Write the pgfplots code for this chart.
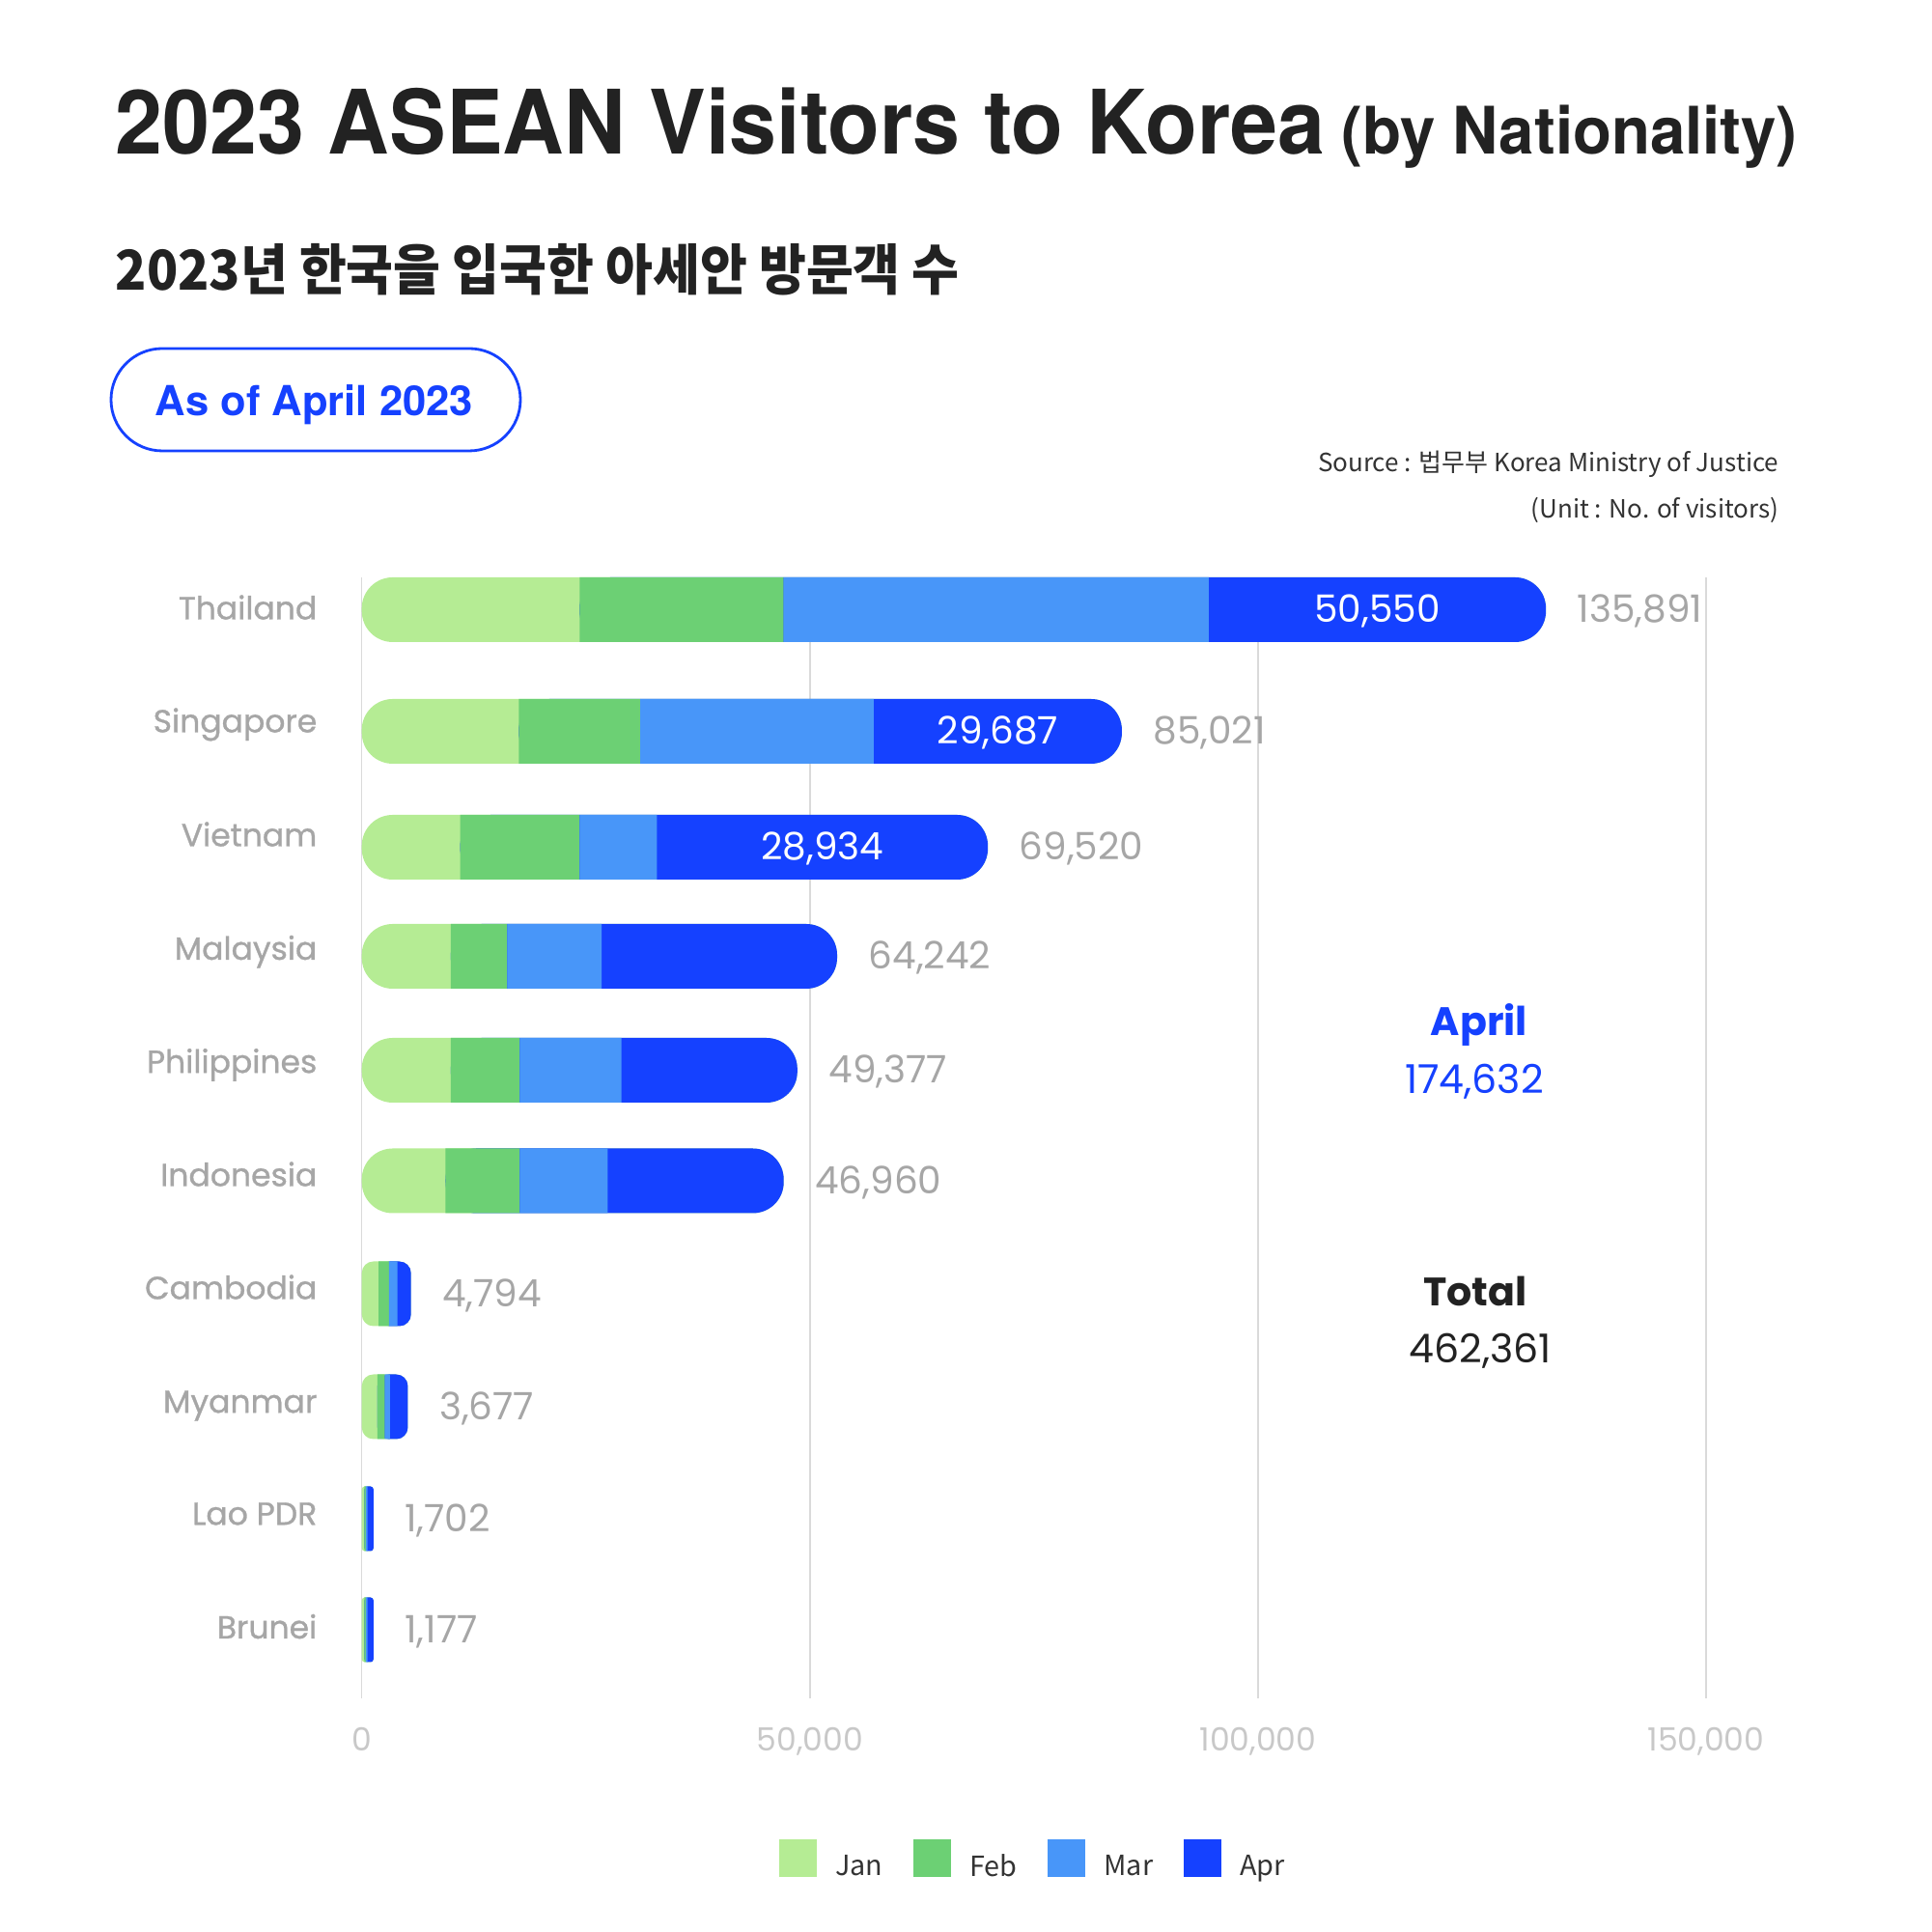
\documentclass[border=0pt]{standalone}
\usepackage{fontspec}
\usepackage{graphicx}
\usepackage{pgfplots}
\usepackage{pgfplotstable}
\pgfplotsset{compat=1.18}
\setmainfont{TeX Gyre Heros}
\newfontfamily\heros{TeX Gyre Heros}
\newfontfamily\kr{Noto Sans CJK KR}
\newfontfamily\pop{Poppins}
\newfontfamily\popsb{Poppins}[FakeBold=0.9]

\definecolor{janc}{HTML}{B5EC94}
\definecolor{febc}{HTML}{6CD074}
\definecolor{marc}{HTML}{4896F9}
\definecolor{aprc}{HTML}{1541FF}
\definecolor{labc}{HTML}{A6A6A6}
\definecolor{tickc}{HTML}{C8C8C8}
\definecolor{gridc}{HTML}{DADADA}
\definecolor{titc}{HTML}{222222}
\definecolor{srcc}{HTML}{333333}
\definecolor{bluet}{HTML}{1541FF}

% y = bar centre, J/F/M = Jan/Feb/Mar widths as drawn, T = end of bar, N = J - T
\pgfplotstableread{
y J F M T N lab
1369.5 24300 22780 47430 132130 -107830 135,891
1243.5 17520 13550 26060 84810 -67290 85,021
1123.5 10980 13320 8640 69860 -58880 69,520
1010.5 9930 6310 10510 53040 -43110 64,242
892.5 9930 7710 11330 48600 -38670 49,377
778 9350 8290 9810 47080 -37730 46,960
}\bigdata
\pgfplotstableread{
y J F M T N lab
661 1870 1170 930 5490 -3620 4,794
544 1750 820 580 5140 -3390 3,677
}\smalldata
\pgfplotstableread{
y J F M T N lab
428 300 150 200 1300 -1000 1,702
313 300 150 200 1300 -1000 1,177
}\tinydata

\pgfplotsset{
  geo/.style={
    scale only axis, width=13.923cm, height=11.61cm,
    xmin=0, xmax=150000, ymin=242, ymax=1403,
    enlargelimits=false,
    at={(3.747cm,2.42cm)}, anchor=south west,
    axis line style={draw=none}, tick style={draw=none},
    major tick length=0pt, clip=false,
  },
  bars/.style={xbar stacked, stack negative=on previous, reverse stacked plots=false, bar width=67},
  vallab/.style={
    point meta=explicit symbolic,
    nodes near coords={\pgfplotspointmeta},
    nodes near coords style={anchor=base west, inner sep=0pt, xshift=0.32cm, yshift=-0.135cm,
      text=labc, font=\pop\fontsize{11.1pt}{12pt}\selectfont},
  },
}

\begin{document}
\begin{tikzpicture}[x=1cm,y=1cm]
\path (0,0) rectangle (20.01,20.01);

\begin{axis}[geo, bars,
  xtick={0,50000,100000,150000},
  xticklabels={0,{50,000},{100,000},{150,000}},
  scaled x ticks=false,
  xticklabel style={font=\pop\fontsize{9.4pt}{10pt}\selectfont, text=tickc, anchor=base, yshift=-0.545cm, inner sep=0pt},
  xmajorgrids, grid style={line width=0.45pt, color=gridc},
  ytick={1359.5,1242.5,1124.5,1007,889.8,772.5,655.5,537.8,421.7,304},
  yticklabels={Thailand,Singapore,Vietnam,Malaysia,Philippines,Indonesia,Cambodia,Myanmar,Lao PDR,Brunei},
  yticklabel style={font=\popsb\fontsize{9.4pt}{10pt}\selectfont, text=labc, anchor=base east, inner sep=0pt, xshift=-0.457cm},
  legend columns=4,
  legend style={draw=none, fill=none, inner sep=0pt, at={(0.3098,-0.1447)}, anchor=west,
    font=\kr\fontsize{8.2pt}{9pt}\selectfont, text=srcc, nodes={inner sep=0pt},
    /tikz/every odd column/.append style={column sep=0.19cm},
    /tikz/every even column/.append style={column sep=0.315cm}},
]
\addplot[fill=janc, draw=none, rounded corners=0.32cm, forget plot] table[x=T, y=y] {\bigdata};
\addplot[fill=aprc, draw=none, rounded corners=0.32cm, forget plot] table[x=N, y=y] {\bigdata};
\addplot[fill=febc, draw=none, forget plot] table[x=F, y=y] {\bigdata};
\addplot[fill=marc, draw=none, forget plot] table[x=M, y=y] {\bigdata};

\addlegendimage{legend image code/.code={\fill[janc] (0cm,-0.085cm) rectangle (0.38cm,0.295cm);}}
\addlegendentry{Jan}
\addlegendimage{legend image code/.code={\fill[febc] (0cm,-0.085cm) rectangle (0.38cm,0.295cm);}}
\addlegendentry{Feb}
\addlegendimage{legend image code/.code={\fill[marc] (0cm,-0.085cm) rectangle (0.38cm,0.295cm);}}
\addlegendentry{Mar}
\addlegendimage{legend image code/.code={\fill[aprc] (0cm,-0.085cm) rectangle (0.38cm,0.295cm);}}
\addlegendentry{Apr}

\node[anchor=base, inner sep=0pt, text=white, font=\pop\fontsize{11.1pt}{12pt}\selectfont] at (axis cs:113320,1356) {50,550};
\node[anchor=base, inner sep=0pt, text=white, font=\pop\fontsize{11.1pt}{12pt}\selectfont] at (axis cs:70970,1230) {29,687};
\node[anchor=base, inner sep=0pt, text=white, font=\pop\fontsize{11.1pt}{12pt}\selectfont] at (axis cs:51400,1110) {28,934};
\end{axis}

\begin{axis}[geo, bars, hide axis]
\addplot[fill=janc, draw=none, rounded corners=0.12cm] table[x=T, y=y] {\smalldata};
\addplot[fill=aprc, draw=none, rounded corners=0.12cm] table[x=N, y=y] {\smalldata};
\addplot[fill=febc, draw=none] table[x=F, y=y] {\smalldata};
\addplot[fill=marc, draw=none] table[x=M, y=y] {\smalldata};
\end{axis}

\begin{axis}[geo, bars, hide axis]
\addplot[fill=janc, draw=none, rounded corners=0.03cm] table[x=T, y=y] {\tinydata};
\addplot[fill=aprc, draw=none, rounded corners=0.03cm] table[x=N, y=y] {\tinydata};
\addplot[fill=febc, draw=none] table[x=F, y=y] {\tinydata};
\addplot[fill=marc, draw=none] table[x=M, y=y] {\tinydata};
\end{axis}

% totals at the bar ends
\begin{axis}[geo, hide axis]
\addplot[draw=none, vallab] table[x=T, y=y, meta=lab] {\bigdata};
\addplot[draw=none, vallab] table[x=T, y=y, meta=lab] {\smalldata};
\addplot[draw=none, vallab] table[x=T, y=y, meta=lab] {\tinydata};
\end{axis}

% titles
\node[anchor=base west, inner sep=0pt, text=titc] at (1.19,18.41)
  {\resizebox{12.53cm}{\height}{\fontsize{26.2pt}{28pt}\selectfont\heros\bfseries 2023 ASEAN Visitors to Korea}};
\node[anchor=base west, inner sep=0pt, text=titc] at (13.89,18.41)
  {\resizebox{4.72cm}{\height}{\fontsize{19.3pt}{21pt}\selectfont\heros\bfseries (by Nationality)}};
\node[anchor=base west, inner sep=0pt, text=titc] at (1.19,17.00)
  {\resizebox{8.74cm}{\height}{\fontsize{16.2pt}{18pt}\selectfont\kr\bfseries 2023년 한국을 입국한 아세안 방문객 수}};

% pill
\draw[line width=0.8pt, draw=bluet, rounded corners=0.53cm] (1.15,15.34) rectangle (5.39,16.40);
\node[anchor=base, inner sep=0pt, text=bluet] at (3.255,15.705)
  {\resizebox{3.29cm}{\height}{\fontsize{12.2pt}{14pt}\selectfont\heros\bfseries As of April 2023}};

% source
\node[anchor=base east, inner sep=0pt, text=srcc, font=\kr\fontsize{7.4pt}{8pt}\selectfont] at (18.43,15.12) {Source : 법무부 Korea Ministry of Justice};
\node[anchor=base east, inner sep=0pt, text=srcc, font=\kr\fontsize{7.4pt}{8pt}\selectfont] at (18.43,14.64) {(Unit : No. of visitors)};

% April / Total
\node[anchor=base, inner sep=0pt, text=bluet, font=\pop\bfseries\fontsize{11.7pt}{12pt}\selectfont] at (15.32,9.28) {April};
\node[anchor=base, inner sep=0pt, text=bluet, font=\pop\fontsize{11.7pt}{12pt}\selectfont] at (15.27,8.68) {174,632};
\node[anchor=base, inner sep=0pt, text=titc, font=\pop\bfseries\fontsize{11.7pt}{12pt}\selectfont] at (15.28,6.48) {Total};
\node[anchor=base, inner sep=0pt, text=titc, font=\pop\fontsize{11.7pt}{12pt}\selectfont] at (15.33,5.89) {462,361};
\end{tikzpicture}
\end{document}
